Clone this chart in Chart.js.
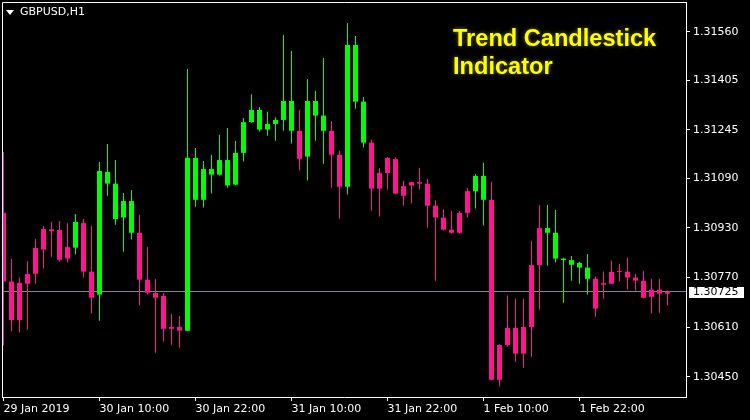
<!DOCTYPE html>
<html>
<head>
<meta charset="utf-8">
<script src="https://cdn.jsdelivr.net/npm/chart.js@4.4.1/dist/chart.umd.min.js"></script>
<style>
  html, body { margin: 0; background: #000; }
  #wrap { position: relative; width: 750px; height: 420px; }
  .tri { position: absolute; left: 6px; top: 10px; width: 0; height: 0;
         border-left: 4px solid transparent; border-right: 4px solid transparent; border-top: 5px solid #fff; }
  .sym { position: absolute; left: 20px; top: 5px; color: #fff; font: 11px "DejaVu Sans"; }
  .note { position: absolute; left: 453px; top: 24px; color: #ffff00; font: bold 23.6px "Liberation Sans";
          line-height: 28px; text-shadow: 0 0 4px rgba(255, 255, 0, 0.45); }
</style>
</head>
<body>
<div id="wrap">
  <canvas id="candles"></canvas>
  <div class="tri"></div>
  <div class="sym">GBPUSD,H1</div>
  <div class="note">Trend Candlestick<br>Indicator</div>
</div>
<script>
// H1 bars, GBPUSD, 29 Jan 22:00 -> 2 Feb
const opens = [
  1.30978, 1.30757, 1.30633, 1.30750, 1.30782, 1.30860, 1.30925, 1.30923, 1.30831, 1.30866,
  1.30945, 1.30789, 1.30715, 1.31110, 1.31072, 1.30963, 1.31016, 1.30914, 1.30763, 1.30720,
  1.30711, 1.30605, 1.30611, 1.30599, 1.31155, 1.31020, 1.31119, 1.31101, 1.31148, 1.31069,
  1.31171, 1.31270, 1.31309, 1.31246, 1.31264, 1.31277, 1.31338, 1.31242, 1.31159, 1.31338,
  1.31291, 1.31242, 1.31165, 1.31062, 1.31518, 1.31336, 1.31204, 1.31056, 1.31106, 1.31151,
  1.31033, 1.31066, 1.31077, 1.31072, 1.31001, 1.30963, 1.30924, 1.30914, 1.30978, 1.31048,
  1.31097, 1.31020, 1.30441, 1.30553, 1.30608, 1.30525, 1.30611, 1.30810, 1.30929, 1.30914,
  1.30831, 1.30826, 1.30817, 1.30802, 1.30766, 1.30747, 1.30750, 1.30788, 1.30789, 1.30770,
  1.30760, 1.30708, 1.30731, 1.30718
];
const highs = [
  1.31174, 1.30830, 1.30770, 1.30823, 1.30894, 1.30936, 1.30949, 1.30952, 1.30945, 1.30974,
  1.30958, 1.30936, 1.31142, 1.31200, 1.31148, 1.31042, 1.31052, 1.30971, 1.30868, 1.30765,
  1.30720, 1.30653, 1.30646, 1.31441, 1.31187, 1.31145, 1.31164, 1.31229, 1.31251, 1.31209,
  1.31283, 1.31360, 1.31319, 1.31303, 1.31286, 1.31550, 1.31499, 1.31309, 1.31409, 1.31370,
  1.31476, 1.31274, 1.31177, 1.31589, 1.31547, 1.31351, 1.31213, 1.31122, 1.31158, 1.31157,
  1.31081, 1.31078, 1.31122, 1.31087, 1.31019, 1.30990, 1.30984, 1.30984, 1.31058, 1.31103,
  1.31139, 1.31077, 1.30555, 1.30712, 1.30702, 1.30702, 1.30888, 1.31003, 1.31003, 1.30987,
  1.30834, 1.30839, 1.30821, 1.30846, 1.30773, 1.30789, 1.30824, 1.30814, 1.30834, 1.30781,
  1.30792, 1.30766, 1.30766, 1.30728
];
const lows = [
  1.30551, 1.30596, 1.30593, 1.30602, 1.30750, 1.30799, 1.30837, 1.30821, 1.30818, 1.30844,
  1.30770, 1.30654, 1.30631, 1.31033, 1.30940, 1.30853, 1.30892, 1.30680, 1.30715, 1.30528,
  1.30564, 1.30554, 1.30544, 1.30597, 1.30998, 1.30995, 1.31040, 1.31098, 1.31059, 1.31067,
  1.31143, 1.31268, 1.31239, 1.31226, 1.31210, 1.31242, 1.31201, 1.31114, 1.31082, 1.31210,
  1.31136, 1.31059, 1.30959, 1.31037, 1.31313, 1.31188, 1.30985, 1.30966, 1.31053, 1.31038,
  1.31001, 1.31008, 1.31053, 1.30930, 1.30760, 1.30921, 1.30912, 1.30912, 1.30963, 1.30992,
  1.30937, 1.30439, 1.30419, 1.30548, 1.30499, 1.30480, 1.30515, 1.30667, 1.30808, 1.30818,
  1.30689, 1.30760, 1.30750, 1.30715, 1.30644, 1.30702, 1.30748, 1.30757, 1.30731, 1.30728,
  1.30703, 1.30654, 1.30657, 1.30680
];
const closes = [
  1.30757, 1.30633, 1.30753, 1.30781, 1.30865, 1.30926, 1.30919, 1.30827, 1.30868, 1.30949,
  1.30789, 1.30705, 1.31113, 1.31072, 1.30958, 1.31016, 1.30914, 1.30763, 1.30721, 1.30705,
  1.30605, 1.30611, 1.30599, 1.31155, 1.31020, 1.31119, 1.31101, 1.31148, 1.31066, 1.31171,
  1.31270, 1.31309, 1.31246, 1.31264, 1.31277, 1.31338, 1.31242, 1.31152, 1.31338, 1.31291,
  1.31242, 1.31165, 1.31062, 1.31518, 1.31336, 1.31204, 1.31056, 1.31106, 1.31155, 1.31040,
  1.31064, 1.31077, 1.31072, 1.31001, 1.30963, 1.30924, 1.30914, 1.30978, 1.31048, 1.31097,
  1.31020, 1.30441, 1.30553, 1.30608, 1.30525, 1.30611, 1.30810, 1.30929, 1.30914, 1.30831,
  1.30826, 1.30811, 1.30802, 1.30766, 1.30670, 1.30752, 1.30788, 1.30789, 1.30770, 1.30760,
  1.30705, 1.30731, 1.30718, 1.30725
];
// indicator trend per bar: 1 = up (green), -1 = down (pink)
const trend = [
  -1, -1, -1, -1, -1, -1, -1, -1, -1, 1,
  -1, -1, 1, 1, 1, 1, 1, -1, -1, -1,
  -1, -1, -1, 1, 1, 1, 1, 1, 1, 1,
  1, 1, 1, 1, 1, 1, 1, -1, 1, 1,
  1, -1, -1, 1, 1, 1, -1, -1, -1, -1,
  -1, -1, -1, -1, -1, -1, -1, -1, -1, 1,
  1, -1, -1, -1, -1, -1, -1, -1, 1, 1,
  1, 1, 1, 1, -1, -1, -1, -1, -1, -1,
  -1, -1, -1, -1
];

const xTickIndex = [0, 12, 24, 36, 48, 60, 72];
const xTickLabels = ["29 Jan 2019", "30 Jan 10:00", "30 Jan 22:00", "31 Jan 10:00", "31 Jan 22:00", "1 Feb 10:00", "1 Feb 22:00"];
const yTicks = [1.30450, 1.30610, 1.30770, 1.30930, 1.31090, 1.31245, 1.31405, 1.31560];

const UP = "#00ff00";
const DOWN = "#ff1493";
const barColors = trend.map((t) => (t > 0 ? UP : DOWN));
const lastPrice = closes[closes.length - 1];

const axisFont = { family: "DejaVu Sans", size: 11 };

const mt4Frame = {
  id: "mt4Frame",
  beforeDatasetsDraw(chart) {
    const { ctx, chartArea: a, scales } = chart;
    const py = Math.floor(scales.y.getPixelForValue(lastPrice)) + 0.5;
    ctx.save();
    ctx.strokeStyle = "#778899";
    ctx.lineWidth = 1;
    ctx.beginPath();
    ctx.moveTo(a.left, py);
    ctx.lineTo(a.right, py);
    ctx.stroke();
    ctx.restore();
  },
  afterDraw(chart) {
    const { ctx, chartArea: a, scales } = chart;
    ctx.save();
    ctx.strokeStyle = "#ffffff";
    ctx.lineWidth = 1;
    ctx.beginPath();
    ctx.moveTo(a.left + 0.5, a.bottom);
    ctx.lineTo(a.left + 0.5, a.top + 0.5);
    ctx.lineTo(a.right, a.top + 0.5);
    ctx.stroke();

    // bid label on the price axis
    const py = Math.floor(scales.y.getPixelForValue(lastPrice));
    ctx.fillStyle = "#ffffff";
    ctx.fillRect(a.right + 3, py - 4, 55, 11);
    ctx.fillStyle = "#000000";
    ctx.font = "11px 'DejaVu Sans'";
    ctx.textBaseline = "middle";
    ctx.fillText(lastPrice.toFixed(5), a.right + 7, py + 1.5);
    ctx.restore();
  },
};

new Chart(document.getElementById("candles"), {
  type: "bar",
  data: {
    datasets: [
      {
        label: "Body",
        data: opens.map((o, i) => ({ x: i, y: [Math.min(o, closes[i]), Math.max(o, closes[i])] })),
        backgroundColor: barColors,
        borderWidth: 0,
        barThickness: 5,
        minBarLength: 1,
        inflateAmount: 0,
        grouped: false,
        order: 1,
      },
      {
        label: "Wick",
        data: lows.map((l, i) => ({ x: i, y: [l, highs[i]] })),
        backgroundColor: barColors,
        borderWidth: 0,
        barThickness: 1,
        inflateAmount: 0,
        grouped: false,
        order: 2,
      },
    ],
  },
  options: {
    responsive: true,
    maintainAspectRatio: false,
    animation: false,
    layout: { padding: { left: 2, top: 2, right: 0, bottom: 0 } },
    plugins: {
      legend: { display: false },
      tooltip: { enabled: false },
    },
    scales: {
      x: {
        type: "linear",
        min: -0.1875,
        max: 85.3125,
        offset: false,
        grid: { display: true, offset: false, drawOnChartArea: false, drawTicks: true, tickLength: 4, color: "#ffffff" },
        border: { display: true, color: "#ffffff" },
        ticks: {
          color: "#ffffff",
          font: axisFont,
          autoSkip: false,
          maxRotation: 0,
          align: "start",
          padding: 2,
          callback: (v) => {
            const k = xTickIndex.indexOf(v);
            return k >= 0 ? xTickLabels[k] : "";
          },
        },
        afterBuildTicks: (s) => {
          s.ticks = xTickIndex.map((v) => ({ value: v }));
        },
        afterFit: (s) => {
          s.height = 23;
          s.paddingLeft = 0;
          s.paddingRight = 0;
        },
      },
      y: {
        position: "right",
        min: 1.303856,
        max: 1.316565,
        grid: { display: true, drawOnChartArea: false, drawTicks: true, tickLength: 4, color: "#ffffff" },
        border: { display: true, color: "#ffffff" },
        ticks: {
          color: "#ffffff",
          font: axisFont,
          padding: 3,
          callback: (v) => Number(v).toFixed(5),
        },
        afterBuildTicks: (s) => {
          s.ticks = yTicks.map((v) => ({ value: v }));
        },
        afterFit: (s) => {
          s.width = 64;
          s.paddingTop = 0;
          s.paddingBottom = 0;
        },
      },
    },
  },
  plugins: [mt4Frame],
});
</script>
</body>
</html>
